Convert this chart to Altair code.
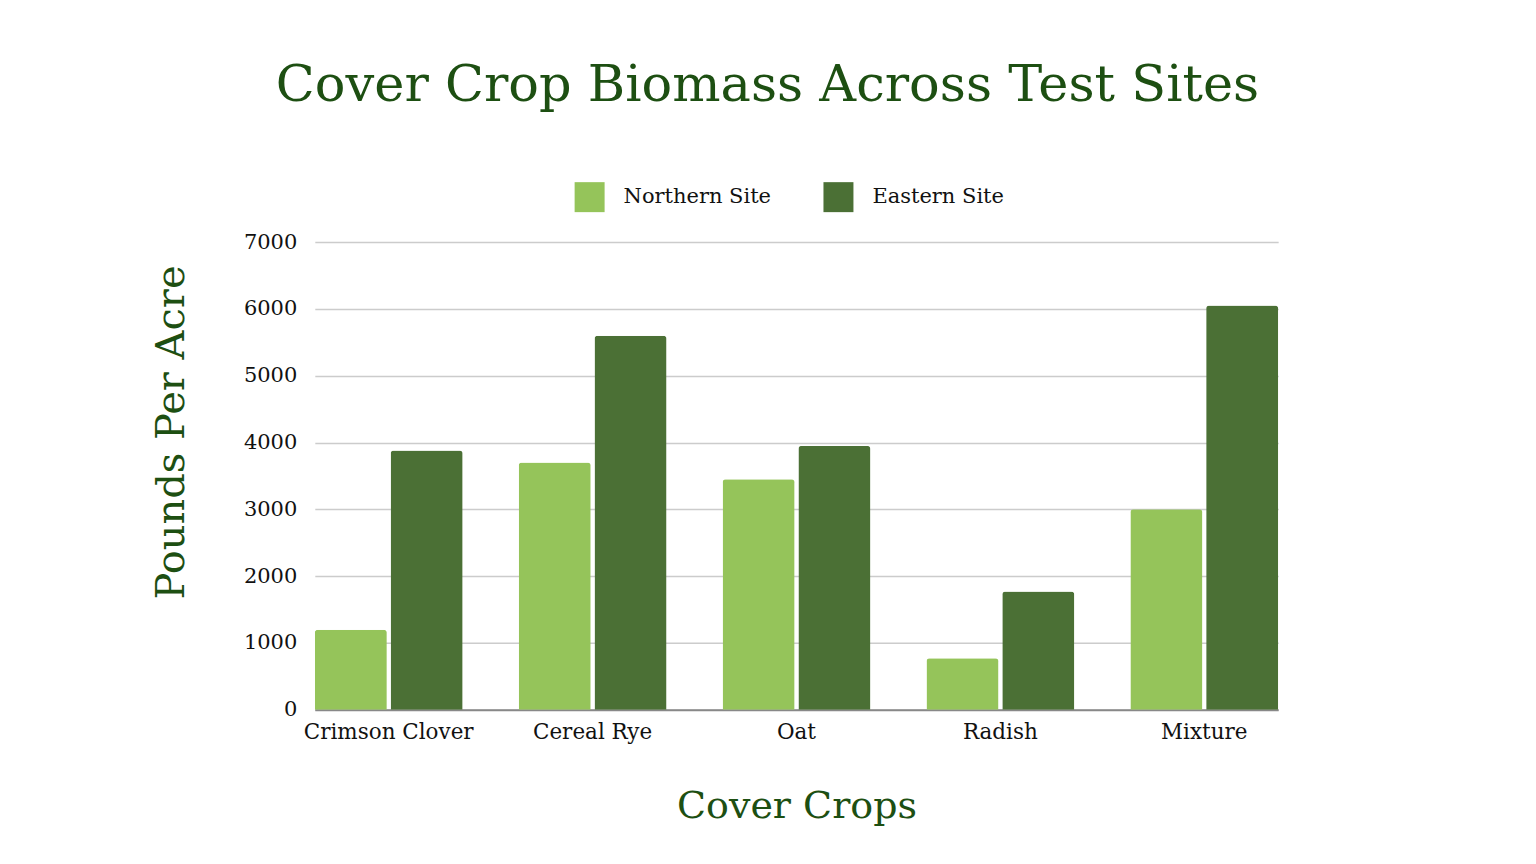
import altair as alt
import pandas as pd

crops = ["Crimson Clover", "Cereal Rye", "Oat", "Radish", "Mixture"]
sites = ["Northern Site", "Eastern Site"]
northern = [1200, 3700, 3450, 770, 3000]
eastern = [3880, 5600, 3950, 1770, 6050]
colors = ["#95c45a", "#4b7035"]

rows = []
for c, n, e in zip(crops, northern, eastern):
    rows.append({"crop": c, "site": sites[0], "value": n})
    rows.append({"crop": c, "site": sites[1], "value": e})
df = pd.DataFrame(rows)

FONT = "DejaVu Serif"
GREEN = "#1d4f12"

chart = alt.Chart(df).mark_bar(
    cornerRadiusTopLeft=3, cornerRadiusTopRight=3
).encode(
    x=alt.X("crop:N", sort=crops,
            scale=alt.Scale(paddingInner=0.275, paddingOuter=0),
            axis=alt.Axis(title="Cover Crops", labelAngle=0, labelFont=FONT,
                          labelFontSize=21.5, labelColor="#111", labelPadding=12,
                          ticks=False, domainColor="#888", domainWidth=2,
                          titleFont=FONT, titleFontSize=38, titleFontWeight="normal",
                          titleColor=GREEN, titlePadding=44, grid=False)),
    xOffset=alt.XOffset("site:N", sort=sites,
                        scale=alt.Scale(paddingInner=0.05, paddingOuter=0)),
    y=alt.Y("value:Q",
            scale=alt.Scale(domain=[0, 7000]),
            axis=alt.Axis(title="Pounds Per Acre", values=list(range(0, 7001, 1000)),
                          format="d",
                          labelFont=FONT, labelFontSize=21, labelColor="#111",
                          labelPadding=18, ticks=False, domain=False,
                          gridColor="#cccccc", gridWidth=1.5,
                          titleFont=FONT, titleFontSize=40, titleFontWeight="normal",
                          titleColor=GREEN, titlePadding=52, titleY=190)),
    color=alt.Color("site:N", sort=sites,
                    scale=alt.Scale(domain=sites, range=colors),
                    legend=alt.Legend(title=None, orient="none", direction="horizontal",
                                      legendX=260, legendY=-60, symbolType="square",
                                      symbolSize=900, symbolStrokeWidth=0,
                                      labelFont=FONT, labelFontSize=21, labelColor="#111",
                                      labelOffset=19, columnPadding=52, padding=0)),
).properties(
    width=964, height=468,
    title=alt.TitleParams("Cover Crop Biomass Across Test Sites", font=FONT,
                          fontSize=51, fontWeight="normal", color=GREEN,
                          anchor="middle", dx=-29, offset=70),
    autosize=alt.AutoSizeParams(type="none"),
    padding={"left": 307, "top": 234, "right": 250, "bottom": 130},
).configure_view(stroke=None)

chart.save("out.html", embed_options={"renderer": "svg", "actions": False})
